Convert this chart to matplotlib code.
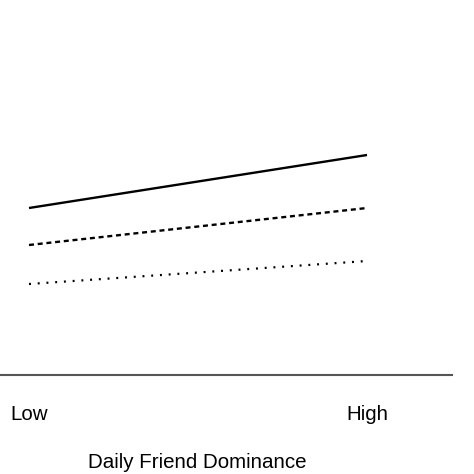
import matplotlib
matplotlib.use("Agg")
import matplotlib.pyplot as plt

# x positions: Low / High of daily friend dominance
x_levels = [0, 1]
x_labels = ["Low", "High"]

# three simple slopes (arbitrary outcome units)
solid_line = [1.67, 2.20]
dashed_line = [1.30, 1.67]
dotted_line = [0.91, 1.14]

plt.rcParams['font.family'] = ['Liberation Sans', 'DejaVu Sans']
plt.rcParams['lines.scale_dashes'] = False

fig = plt.figure(figsize=(4.74, 4.74), dpi=100)
ax = fig.add_axes([0, 0, 1, 1])
ax.set_xlim(-29 / 338, 445 / 338)
ax.set_ylim(-0.99, 3.75)
ax.axis('off')

ax.plot(x_levels, solid_line, color='black', lw=1.7, solid_capstyle='butt')
ax.plot(x_levels, dashed_line, color='black', lw=1.7, dashes=(3.6, 2.7))
ax.plot(x_levels, dotted_line, color='black', lw=1.6, dashes=(1.4, 4.9))

# baseline
ax.axhline(0, xmin=0, xmax=452 / 474, color='#555555', lw=1.5)

for xv, lab in zip(x_levels, x_labels):
    ax.text(xv, -0.40, lab, ha='center', va='center', fontsize=14.8)

ax.text(0.497, -0.88, 'Daily Friend Dominance', ha='center', va='center', fontsize=14.8)

fig.savefig('out.png', dpi=100, facecolor='white')
